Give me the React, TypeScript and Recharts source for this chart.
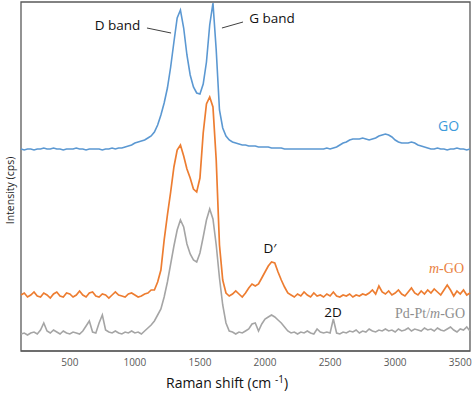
import {
  LineChart, Line, XAxis, YAxis, ReferenceArea, ReferenceDot, ReferenceLine, Label,
} from "recharts";

// Raman shift (cm-1), sampled every 25 cm-1
const ramanShift = [
  125, 150, 175, 200, 225, 250, 275, 300, 325, 350, 375, 400, 425, 450, 475, 500, 525, 550, 575, 600,
  625, 650, 675, 700, 725, 750, 775, 800, 825, 850, 875, 900, 925, 950, 975, 1000, 1025, 1050, 1075, 1100,
  1125, 1150, 1175, 1200, 1225, 1250, 1275, 1300, 1325, 1350, 1375, 1400, 1425, 1450, 1475, 1500, 1525, 1550, 1575, 1600,
  1625, 1650, 1675, 1700, 1725, 1750, 1775, 1800, 1825, 1850, 1875, 1900, 1925, 1950, 1975, 2000, 2025, 2050, 2075, 2100,
  2125, 2150, 2175, 2200, 2225, 2250, 2275, 2300, 2325, 2350, 2375, 2400, 2425, 2450, 2475, 2500, 2525, 2550, 2575, 2600,
  2625, 2650, 2675, 2700, 2725, 2750, 2775, 2800, 2825, 2850, 2875, 2900, 2925, 2950, 2975, 3000, 3025, 3050, 3075, 3100,
  3125, 3150, 3175, 3200, 3225, 3250, 3275, 3300, 3325, 3350, 3375, 3400, 3425, 3450, 3475, 3500, 3525, 3550, 3575,
];

// stacked intensities (arbitrary units, offset per sample)
const goCounts = [
  201, 200, 201, 201, 200, 201, 201, 202, 201, 201, 202, 201, 201, 200, 201, 201, 201, 202, 201, 201,
  200, 201, 201, 201, 201, 200, 201, 201, 202, 201, 202, 202, 203, 204, 205, 207, 208, 209, 210, 212,
  214, 218, 225, 235, 247, 262, 283, 308, 332, 340, 322, 295, 275, 263, 257, 256, 266, 288, 325, 347,
  300, 240, 222, 214, 210, 208, 207, 206, 205, 205, 204, 204, 204, 203, 203, 203, 203, 202, 202, 202,
  202, 201, 201, 201, 201, 201, 201, 201, 201, 201, 201, 201, 201, 201, 202, 201, 202, 203, 205, 207,
  208, 210, 211, 211, 211, 212, 211, 210, 211, 212, 214, 215, 216, 215, 213, 210, 208, 207, 207, 207,
  208, 207, 205, 204, 203, 202, 201, 201, 202, 201, 201, 200, 201, 201, 202, 201, 201, 200, 201,
];

const mgoCounts = [
  55, 57, 53, 55, 58, 54, 53, 57, 55, 52, 56, 58, 54, 53, 57, 56, 53, 55, 59, 55,
  53, 57, 58, 54, 53, 56, 55, 52, 55, 58, 55, 54, 53, 56, 57, 55, 53, 54, 56, 57,
  60, 60, 68, 80, 110, 135, 158, 183, 200, 205, 194, 181, 172, 161, 158, 172, 217, 246, 253, 243,
  190, 105, 70, 57, 54, 56, 59, 56, 53, 57, 62, 66, 64, 66, 72, 78, 84, 88, 87, 78,
  70, 63, 57, 55, 53, 56, 54, 58, 55, 53, 57, 54, 55, 53, 56, 54, 58, 54, 53, 55,
  54, 56, 53, 55, 54, 56, 55, 57, 60, 56, 64, 58, 56, 59, 55, 57, 60, 56, 54, 58,
  62, 57, 55, 59, 56, 60, 57, 61, 58, 55, 60, 65, 60, 54, 59, 56, 60, 55, 57,
];

const pdptCounts = [
  16, 17, 15, 17, 18, 16, 20, 27, 19, 17, 20, 18, 16, 19, 17, 16, 18, 17, 16, 19,
  24, 29, 18, 17, 27, 35, 20, 18, 17, 19, 17, 16, 18, 17, 19, 17, 18, 16, 19, 22,
  25, 29, 35, 41, 53, 68, 86, 104, 120, 130, 123, 106, 96, 90, 88, 97, 113, 130, 141, 131,
  105, 72, 45, 27, 19, 18, 16, 18, 17, 19, 21, 26, 27, 19, 26, 31, 33, 35, 33, 30,
  27, 23, 19, 17, 18, 16, 18, 17, 19, 17, 16, 21, 18, 17, 18, 17, 31, 17, 16, 18,
  17, 19, 18, 20, 17, 19, 18, 21, 19, 18, 20, 19, 21, 19, 20, 18, 21, 19, 20, 22,
  19, 21, 20, 19, 22, 20, 21, 19, 22, 20, 19, 21, 23, 20, 18, 21, 20, 23, 19,
];

const xTicks = [500, 1000, 1500, 2000, 2500, 3000, 3500];

const rows = ramanShift.map((shift, i) => ({
  shift, go: goCounts[i], mgo: mgoCounts[i], pdpt: pdptCounts[i],
}));

const SANS = "'Open Sans', 'Liberation Sans', sans-serif";
const SERIF = "'Liberation Serif', 'DejaVu Serif', serif";

const note = (text: React.ReactNode, opts: { color?: string; font?: string; size?: number; anchor?: "start" | "middle" | "end" } = {}) =>
  (p: any) => (
    <text x={p.cx} y={p.cy} textAnchor={opts.anchor ?? "middle"} dominantBaseline="central"
      fill={opts.color ?? "#111"} fontFamily={opts.font ?? SANS} fontSize={opts.size ?? 13.5}>
      {text}
    </text>
  );

export default function App() {
  return (
    <div style={{ position: "absolute", left: 0, top: 0, background: "#fff" }}>
      <LineChart width={474} height={393} data={rows} margin={{ top: 2, right: 4, left: 0, bottom: 0 }}>
        <XAxis type="number" dataKey="shift" domain={[125, 3575]} ticks={xTicks} height={42}
          tickLine={false} axisLine={{ stroke: "#595959" }}
          tick={{ fontSize: 10, fill: "#595959", fontFamily: SANS }}>
          <Label content={({ viewBox }: any) => (
            <text x={viewBox.x + 206} y={viewBox.y + 37} textAnchor="middle" fontFamily={SANS} fontSize={14} fill="#111">
              Raman shift (cm <tspan dy={-5} fontSize={10}>-1</tspan><tspan dy={5}>)</tspan>
            </text>
          )} />
        </XAxis>
        <YAxis domain={[-1, 348]} width={21} tick={false} axisLine={false} tickLine={false}>
          <Label content={({ viewBox }: any) => {
            const cx = viewBox.x + 10;
            const cy = viewBox.y + viewBox.height / 2 + 14;
            return (
              <text x={cx} y={cy} transform={`rotate(-90 ${cx} ${cy})`} textAnchor="middle"
                dominantBaseline="central" fontFamily={SANS} fontSize={10.5} fill="#222">
                Intensity (cps)
              </text>
            );
          }} />
        </YAxis>
        <ReferenceArea x1={125} x2={3575} y1={-1} y2={348} fill="none" stroke="#595959" strokeWidth={1.3} />

        <Line dataKey="go" stroke="#5b98d2" strokeWidth={1.6} dot={false} isAnimationActive={false} />
        <Line dataKey="mgo" stroke="#ed7d31" strokeWidth={1.7} dot={false} isAnimationActive={false} />
        <Line dataKey="pdpt" stroke="#a5a5a5" strokeWidth={1.6} dot={false} isAnimationActive={false} />

        <ReferenceLine segment={[{ x: 1093, y: 322 }, { x: 1278, y: 317 }]} stroke="#404040" strokeWidth={1} />
        <ReferenceLine segment={[{ x: 1669, y: 322 }, { x: 1831, y: 328 }]} stroke="#404040" strokeWidth={1} />

        <ReferenceDot x={866} y={325} r={0} shape={note("D band")} />
        <ReferenceDot x={2054} y={332} r={0} shape={note("G band")} />
        <ReferenceDot x={2038} y={102} r={0} shape={note("D\u2032")} />
        <ReferenceDot x={2522} y={38} r={0} shape={note("2D")} />
        <ReferenceDot x={3491} y={225} r={0}
          shape={note("GO", { color: "#3d9bdb", anchor: "end", size: 14 })} />
        <ReferenceDot x={3529} y={82} r={0}
          shape={note(<><tspan fontStyle="italic">m</tspan>-GO</>, { color: "#e9803e", anchor: "end", font: SERIF, size: 14 })} />
        <ReferenceDot x={3537} y={37} r={0}
          shape={note(<>Pd-Pt/<tspan fontStyle="italic">m</tspan>-GO</>, { color: "#8e8e8e", anchor: "end", font: SERIF, size: 14 })} />
      </LineChart>
    </div>
  );
}
